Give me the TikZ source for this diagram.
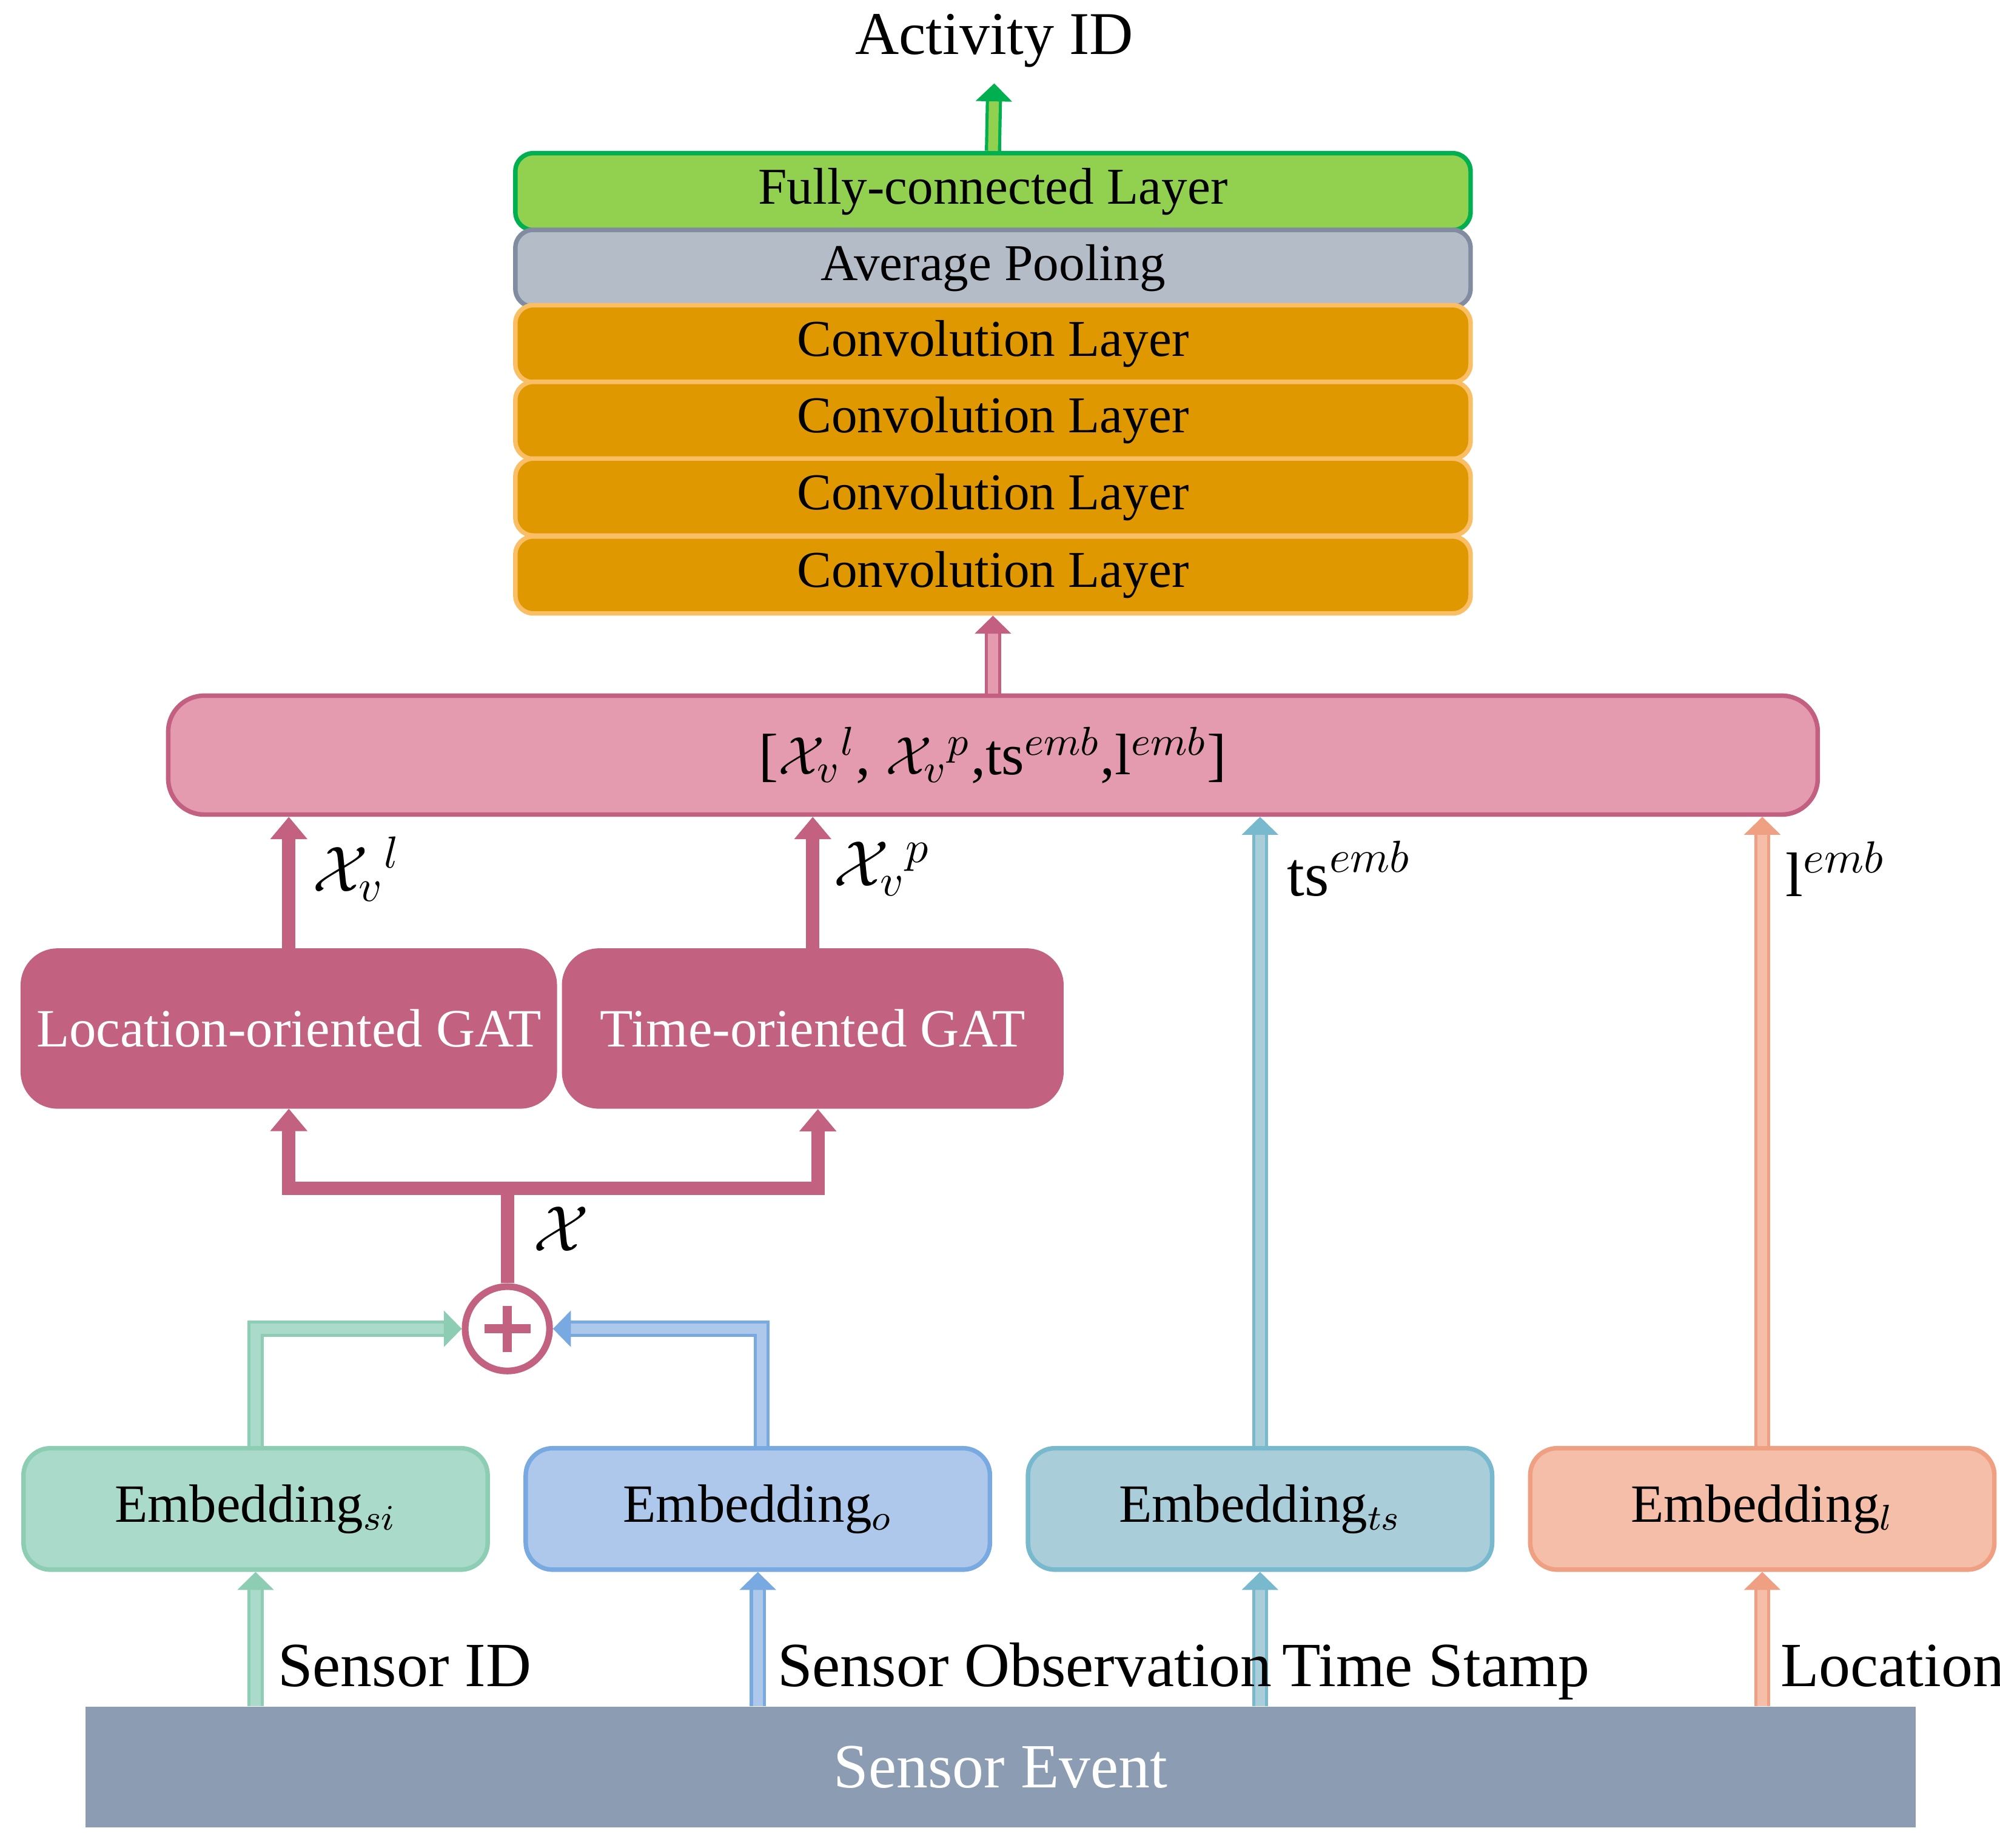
\documentclass[tikz,border=0pt]{standalone}
\usepackage{fontspec}
\setmainfont{Liberation Serif}
\usetikzlibrary{arrows.meta,positioning}

\definecolor{fcfill}{RGB}{146,208,80}
\definecolor{fcline}{RGB}{0,176,80}
\definecolor{apfill}{RGB}{180,188,200}
\definecolor{apline}{RGB}{130,140,160}
\definecolor{cvfill}{RGB}{224,152,0}
\definecolor{cvline}{RGB}{250,190,100}
\definecolor{ccfill}{RGB}{228,155,176}
\definecolor{ccline}{RGB}{195,95,128}
\definecolor{gatfill}{RGB}{194,98,128}
\definecolor{sifill}{RGB}{170,218,202}
\definecolor{siline}{RGB}{140,205,180}
\definecolor{ofill}{RGB}{173,200,235}
\definecolor{oline}{RGB}{120,170,225}
\definecolor{tsfill}{RGB}{170,205,218}
\definecolor{tsline}{RGB}{120,185,205}
\definecolor{lfill}{RGB}{245,190,168}
\definecolor{lline}{RGB}{240,160,130}
\definecolor{sefill}{RGB}{140,156,178}

\tikzstyle{layer} = [rectangle, rounded corners=4pt, minimum width=7.47cm, minimum height=0.56cm, text centered, line width=1pt, font=\fontsize{11.5}{13}\selectfont]
\tikzstyle{gat} = [rectangle, rounded corners=8pt, minimum height=1.24cm, text centered, fill=gatfill, draw=gatfill, text=white, font=\fontsize{12}{14}\selectfont]
\tikzstyle{embed} = [rectangle, rounded corners=6pt, minimum width=3.63cm, minimum height=0.95cm, text centered, line width=1pt, font=\fontsize{12}{14}\selectfont]
\tikzstyle{hollow} = [line width=0.7pt, double distance=2.2pt, -{Triangle[length=4pt,width=8pt]}]
\tikzstyle{solid arrow} = [line width=3pt, color=gatfill, -{Triangle[length=5pt,width=8pt]}]
\tikzstyle{label} = [font=\fontsize{14}{16}\selectfont]

\begin{document}
\begin{tikzpicture}[x=0.01cm,y=-0.01cm]
\useasboundingbox (0,0) rectangle (1565,1446);

% Define nodes
\node (out) [label, font=\fontsize{13.5}{16}\selectfont] at (778,32) {Activity ID};
\node (fc) [layer, fill=fcfill, draw=fcline] at (777,150) {Fully-connected Layer};
\node (pool) [layer, fill=apfill, draw=apline] at (777,210) {Average Pooling};
\node (conv4) [layer, fill=cvfill, draw=cvline] at (777,269) {Convolution Layer};
\node (conv3) [layer, fill=cvfill, draw=cvline] at (777,329) {Convolution Layer};
\node (conv2) [layer, fill=cvfill, draw=cvline] at (777,389) {Convolution Layer};
\node (conv1) [layer, fill=cvfill, draw=cvline] at (777,450) {Convolution Layer};
\node (concat) [rectangle, rounded corners=8pt, minimum width=12.9cm, minimum height=0.93cm, fill=ccfill, draw=ccline, line width=1pt, font=\fontsize{13}{15}\selectfont] at (777,591) {[$\mathcal{X}_v{}^l$, $\mathcal{X}_v{}^p$,ts$^{emb}$,l$^{emb}$]};
\node (locgat) [gat, minimum width=4.16cm] at (226,805) {Location-oriented GAT};
\node (timegat) [gat, minimum width=3.91cm] at (636,805) {Time-oriented GAT};
\node (plus) [circle, draw=gatfill, fill=white, line width=1.5pt, minimum size=0.66cm, inner sep=0pt] at (397,1040) {};
\draw [gatfill, line width=2pt] (397,1022) -- (397,1058) (379,1040) -- (415,1040);
\node (embsi) [embed, fill=sifill, draw=siline] at (200,1181) {Embedding$_{si}$};
\node (embo) [embed, fill=ofill, draw=oline] at (593,1181) {Embedding$_{o}$};
\node (embts) [embed, fill=tsfill, draw=tsline] at (986,1181) {Embedding$_{ts}$};
\node (embl) [embed, fill=lfill, draw=lline] at (1379,1181) {Embedding$_{l}$};
\node (event) [rectangle, minimum width=14.31cm, minimum height=0.94cm, fill=sefill, text=white, font=\fontsize{14}{16}\selectfont] at (783,1383) {Sensor Event};
\coordinate (split) at (397,930);

% Draw arrows
\draw [hollow, draw=fcline, double=fcfill] (fc.north) -- (out.south);
\draw [hollow, draw=ccline, double=ccfill] (concat.north) -- (conv1.south);
\draw [solid arrow] (locgat.north) -- (concat.south -| locgat.north);
\draw [solid arrow] (636,743) -- (concat.south -| 636,0);
\draw [solid arrow] (plus.north) -- (split) -| (locgat.south);
\draw [solid arrow] (split) -| (640,868);
\draw [hollow, draw=siline, double=sifill] (embsi.north) |- (plus.west);
\draw [hollow, draw=oline, double=ofill] (embo.north -| 596,0) |- (plus.east);
\draw [hollow, draw=tsline, double=tsfill] (embts.north) -- (concat.south -| embts.north);
\draw [hollow, draw=lline, double=lfill] (embl.north) -- (concat.south -| embl.north);
\draw [hollow, draw=siline, double=sifill] (event.north -| embsi) -- (embsi.south);
\draw [hollow, draw=oline, double=ofill] (event.north -| embo) -- (embo.south);
\draw [hollow, draw=tsline, double=tsfill] (event.north -| embts) -- (embts.south);
\draw [hollow, draw=lline, double=lfill] (event.north -| embl) -- (embl.south);

% Labels
\node [label, anchor=west] at (232,680) {$\mathcal{X}_v{}^l$};
\node [label, anchor=west] at (640,680) {$\mathcal{X}_v{}^p$};
\node [label, anchor=west] at (405,962) {$\mathcal{X}$};
\node [label, anchor=west] at (995,680) {ts$^{emb}$};
\node [label, anchor=west] at (1385,680) {l$^{emb}$};
\node [label, anchor=base west] at (205,1320) {Sensor ID};
\node [label, anchor=base west] at (596,1320) {Sensor Observation};
\node [label, anchor=base west] at (991,1320) {Time Stamp};
\node [label, anchor=base west] at (1381,1320) {Location};

\end{tikzpicture}
\end{document}
